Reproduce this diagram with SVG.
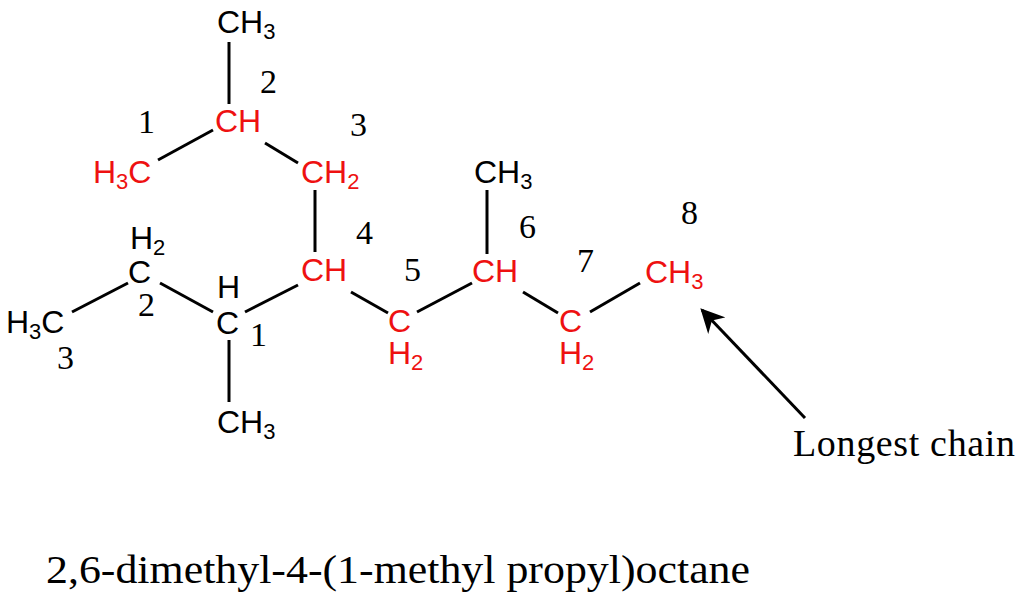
<svg xmlns="http://www.w3.org/2000/svg" width="1024" height="606" viewBox="0 0 1024 606">
<style>
.a{font-family:"Liberation Sans",Arial,sans-serif;font-size:32px}
.r{fill:#ee1111}
.k{fill:#000}
.s{font-size:22px}
.n{font-family:"Liberation Serif","Times New Roman",serif;font-size:34px;fill:#000}
.b{stroke:#000;stroke-width:3;fill:none}
</style>
<defs><marker id="ah" viewBox="0 0 10 10" refX="9" refY="5" markerWidth="24" markerHeight="24" markerUnits="userSpaceOnUse" orient="auto"><path d="M0,0 L10,5 L0,10 L3,5 Z" fill="#000"/></marker></defs>
<rect width="1024" height="606" fill="#fff"/>
<g id="connectors">
<line class="b" x1="229" y1="42" x2="229" y2="104"/>
<line class="b" x1="158" y1="160" x2="213" y2="130"/>
<line class="b" x1="265" y1="143" x2="298" y2="163"/>
<line class="b" x1="315" y1="190" x2="315" y2="252"/>
<line class="b" x1="351" y1="292" x2="388" y2="313"/>
<line class="b" x1="417" y1="312" x2="472" y2="283"/>
<line class="b" x1="487" y1="190" x2="487" y2="254"/>
<line class="b" x1="523" y1="292" x2="558" y2="313"/>
<line class="b" x1="590" y1="312" x2="640" y2="283"/>
<line class="b" x1="72" y1="312" x2="128" y2="283"/>
<line class="b" x1="160" y1="283" x2="213" y2="312"/>
<line class="b" x1="245" y1="312" x2="298" y2="285"/>
<line class="b" x1="229" y1="340" x2="229" y2="402"/>
<line class="b" x1="805" y1="418" x2="702" y2="310" marker-end="url(#ah)"/>
</g>
<g id="n-ch3-top"><text class="a k" x="217" y="33">CH<tspan class="s" dy="6">3</tspan></text></g>
<g id="n-ch-2"><text class="a r" x="215" y="132">CH</text></g>
<g id="n-h3c-1"><text class="a r" x="93" y="183">H<tspan class="s" dy="6">3</tspan><tspan dy="-6">C</tspan></text></g>
<g id="n-ch2-3"><text class="a r" x="301" y="183">CH<tspan class="s" dy="6">2</tspan></text></g>
<g id="n-ch-4"><text class="a r" x="301" y="281">CH</text></g>
<g id="n-c-5"><text class="a r" x="388" y="332">C</text><text class="a r" x="388" y="364">H<tspan class="s" dy="6">2</tspan></text></g>
<g id="n-ch3-6top"><text class="a k" x="474" y="183">CH<tspan class="s" dy="6">3</tspan></text></g>
<g id="n-ch-6"><text class="a r" x="472" y="282">CH</text></g>
<g id="n-c-7"><text class="a r" x="559" y="332">C</text><text class="a r" x="559" y="364">H<tspan class="s" dy="6">2</tspan></text></g>
<g id="n-ch3-8"><text class="a r" x="645" y="283">CH<tspan class="s" dy="6">3</tspan></text></g>
<g id="n-c2-left"><text class="a k" x="130" y="249">H<tspan class="s" dy="6">2</tspan></text><text class="a k" x="128" y="283">C</text></g>
<g id="n-h3c-left"><text class="a k" x="6" y="333">H<tspan class="s" dy="6">3</tspan><tspan dy="-6">C</tspan></text></g>
<g id="n-ch-1"><text class="a k" x="217" y="298">H</text><text class="a k" x="216" y="334">C</text></g>
<g id="n-ch3-bottom"><text class="a k" x="217" y="433">CH<tspan class="s" dy="6">3</tspan></text></g>
<g id="numbers">
<text class="n" x="138" y="133">1</text>
<text class="n" x="260" y="93">2</text>
<text class="n" x="350" y="136">3</text>
<text class="n" x="356" y="244">4</text>
<text class="n" x="404" y="281">5</text>
<text class="n" x="519" y="238">6</text>
<text class="n" x="577" y="272">7</text>
<text class="n" x="681" y="224">8</text>
<text class="n" x="138" y="316">2</text>
<text class="n" x="57" y="369">3</text>
<text class="n" x="250" y="346">1</text>
</g>
<text class="n" x="793" y="456" style="font-size:38px" textLength="222">Longest chain</text>
<text class="n" x="46" y="583" style="font-size:40px" textLength="704" lengthAdjust="spacingAndGlyphs">2,6-dimethyl-4-(1-methyl propyl)octane</text>
</svg>
